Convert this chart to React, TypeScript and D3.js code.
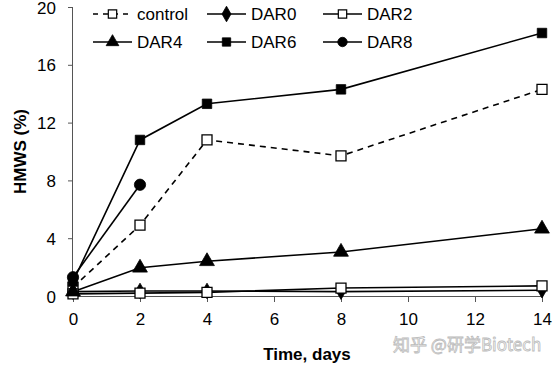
import React, { useEffect, useRef } from 'react';
import * as d3 from 'd3';

const days = [0, 2, 4, 8, 14];
const control = [0.6, 4.9, 10.8, 9.7, 14.3];
const dar0 = [0.3, 0.35, 0.35, 0.3, 0.4];
const dar2 = [0.15, 0.2, 0.25, 0.55, 0.7];
const dar4 = [0.3, 1.95, 2.4, 3.05, 4.65];
const dar6 = [1.0, 10.8, 13.3, 14.3, 18.2];
const dar8 = [1.3, 7.7];

const xTicks = [0, 2, 4, 6, 8, 10, 12, 14];
const yTicks = [0, 4, 8, 12, 16, 20];

type Series = { name: string; values: number[]; marker: string; fill: string; dashed?: boolean };

const series: Series[] = [
  { name: 'control', values: control, marker: 'square', fill: '#fff', dashed: true },
  { name: 'DAR0', values: dar0, marker: 'diamond', fill: '#000' },
  { name: 'DAR2', values: dar2, marker: 'square', fill: '#fff' },
  { name: 'DAR4', values: dar4, marker: 'triangle', fill: '#000' },
  { name: 'DAR6', values: dar6, marker: 'square', fill: '#000' },
  { name: 'DAR8', values: dar8, marker: 'circle', fill: '#000' },
];

const font = 'Liberation Sans, Arial, sans-serif';

const App = () => {
  const svgRef = useRef<SVGSVGElement>(null);

  useEffect(() => {
    const svg = d3.select(svgRef.current);
    const width = 554;
    const height = 368;
    svg.selectAll('*').remove();
    svg.attr('width', width).attr('height', height);

    const x = d3.scaleLinear().domain([0, 14]).range([73, 542]);
    const y = d3.scaleLinear().domain([0, 20]).range([296, 7]);

    const symbolFor = (m: string, big = false) => {
      if (m === 'square') return d3.symbol(d3.symbolSquare, big ? 100 : 90);
      if (m === 'diamond') return d3.symbol(d3.symbolDiamond, 70);
      if (m === 'triangle') return d3.symbol(d3.symbolTriangle, 95);
      return d3.symbol(d3.symbolCircle, 100);
    };

    // axes
    const yAxis = d3.axisLeft(y).tickValues(yTicks).tickSize(5).tickPadding(12);
    const gy = svg.append('g').attr('transform', `translate(${x(0)},0)`).call(yAxis);
    const xAxis = d3.axisBottom(x).tickValues(xTicks).tickSize(6).tickPadding(11);
    const gx = svg.append('g').attr('transform', `translate(0,${y(0)})`).call(xAxis);
    [gx, gy].forEach((g) => {
      g.selectAll('path,line').attr('stroke', '#555').attr('stroke-width', 1);
      g.selectAll('text')
        .attr('font-family', font)
        .attr('font-size', 17)
        .attr('fill', '#000');
    });
    gy.selectAll('text').attr('dy', '0.36em');
    gx.select('.domain').attr('d', `M${x(0)},0.5H${x(14)}`);
    gy.select('.domain').attr('d', `M-0.5,${y(0)}V${y(20)}`);

    // lines
    const line = d3
      .line<number>()
      .x((d, i) => x(days[i]))
      .y((d) => y(d));

    series.forEach((s) => {
      svg
        .append('path')
        .datum(s.values)
        .attr('fill', 'none')
        .attr('stroke', '#000')
        .attr('stroke-width', 1.6)
        .attr('stroke-dasharray', s.dashed ? '6,5' : null)
        .attr('d', line);
    });

    // markers
    series.forEach((s) => {
      svg
        .append('g')
        .selectAll('path')
        .data(s.values)
        .join('path')
        .attr('transform', (d, i) => `translate(${x(days[i])},${y(d)})`)
        .attr('d', symbolFor(s.marker, s.fill === '#fff'))
        .attr('fill', s.fill)
        .attr('stroke', '#000')
        .attr('stroke-width', s.fill === '#fff' ? 1.3 : 0.8);
    });

    // legend
    const legendCols = [93, 207, 323];
    const legendRows = [14, 42];
    series.forEach((s, i) => {
      const lx = legendCols[i % 3];
      const ly = legendRows[Math.floor(i / 3)];
      const g = svg.append('g').attr('transform', `translate(${lx},${ly})`);
      g.append('line')
        .attr('x1', 0)
        .attr('x2', 39)
        .attr('stroke', '#000')
        .attr('stroke-width', 1.6)
        .attr('stroke-dasharray', s.dashed ? '5,5' : null);
      g.append('path')
        .attr('transform', 'translate(19.5,0)')
        .attr('d', symbolFor(s.marker).size(70))
        .attr('fill', s.fill)
        .attr('stroke', '#000')
        .attr('stroke-width', s.fill === '#fff' ? 1.2 : 0.8);
      g.append('text')
        .attr('x', 44)
        .attr('y', 6)
        .attr('font-family', font)
        .attr('font-size', 17)
        .text(s.name);
    });

    // axis titles
    svg
      .append('text')
      .attr('transform', `translate(26,${(y(0) + y(20)) / 2}) rotate(-90)`)
      .attr('text-anchor', 'middle')
      .attr('font-family', font)
      .attr('font-weight', 'bold')
      .attr('font-size', 17)
      .text('HMWS (%)');
    svg
      .append('text')
      .attr('x', 307)
      .attr('y', 360)
      .attr('text-anchor', 'middle')
      .attr('font-family', font)
      .attr('font-weight', 'bold')
      .attr('font-size', 17)
      .text('Time, days');

    // watermark
    svg
      .append('text')
      .attr('x', 393)
      .attr('y', 351)
      .attr('font-family', 'Noto Sans CJK SC, sans-serif')
      .attr('font-size', 17)
      .attr('fill', '#fff')
      .attr('stroke', '#bbb')
      .attr('stroke-width', 0.8)
      .text('知乎 @研学Biotech');
  }, []);

  return <svg ref={svgRef} style={{ position: 'absolute', left: 0, top: 0 }} />;
};

export default App;
